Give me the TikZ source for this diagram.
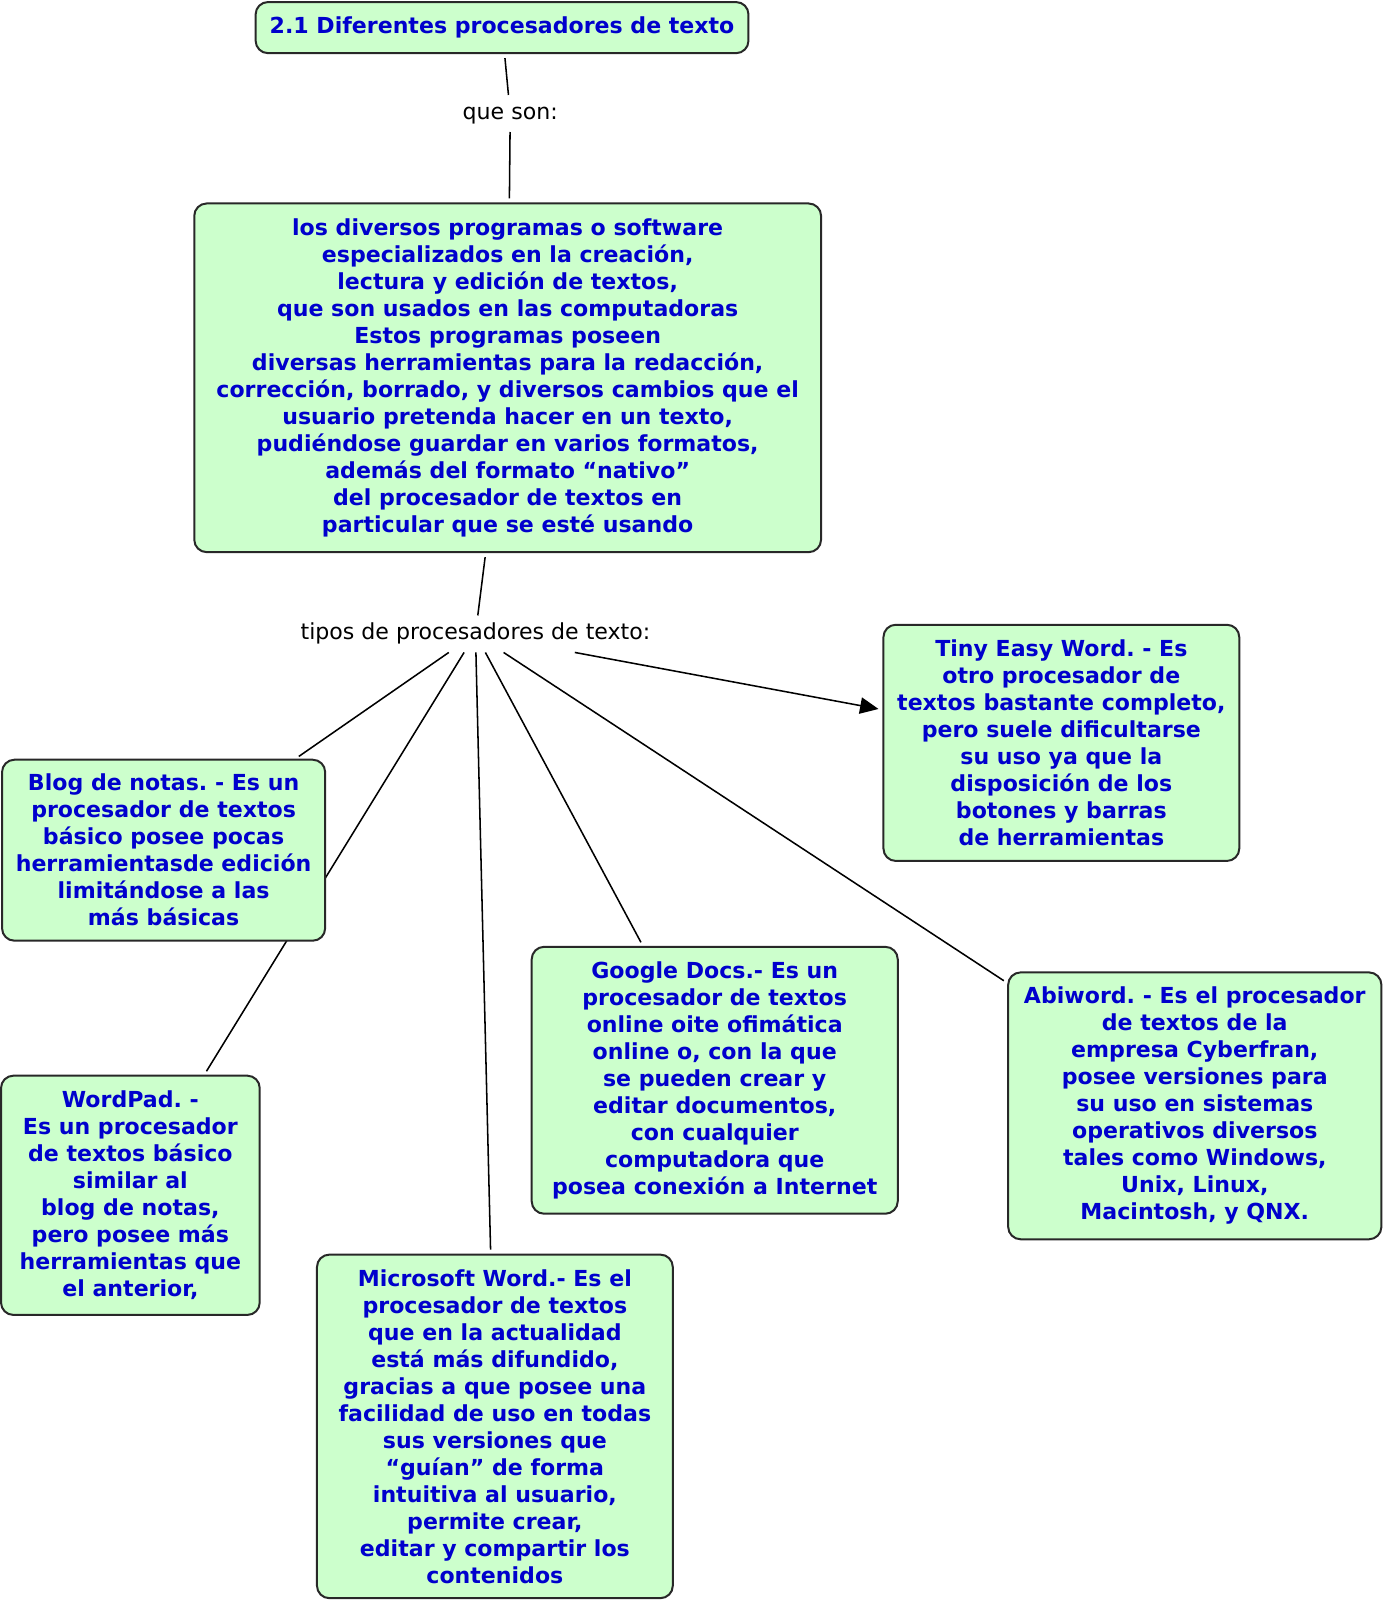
\documentclass[tikz,border=0pt]{standalone}
\usepackage{fontspec}
\setmainfont{DejaVu Sans}
\usetikzlibrary{arrows.meta}
\frenchspacing
\definecolor{boxfill}{RGB}{204,255,204}
\definecolor{boxtext}{RGB}{0,0,204}
\definecolor{boxline}{RGB}{40,40,40}
\pgfdeclarelayer{background}
\pgfsetlayers{background,main}
\tikzset{
  sz/.style 2 args={minimum width=#1*0.51125pt, minimum height=#2*0.51125pt},
  concept/.style={draw=boxline, line width=1pt, fill=boxfill, rounded corners=6.2pt,
    text=boxtext, font=\fontsize{11.04}{13.5}\selectfont\bfseries, align=center, inner sep=0pt},
  linklabel/.style={font=\fontsize{11.04}{13.5}\selectfont, text=black, inner sep=3.6pt,
    text height=8.2pt, text depth=2.7pt},
  conn/.style={line width=0.77pt, draw=black},
  tobox/.style={conn, shorten >=2pt},
  frombox/.style={conn, shorten <=2pt},
}
\begin{document}
\begin{tikzpicture}[x=0.51125pt,y=-0.51125pt]
\useasboundingbox (0,0) rectangle (1353.6,1564.8);
\begin{pgfonlayer}{background}
\fill[white] (0,0) rectangle (1353.6,1564.8);
\end{pgfonlayer}

\node[concept, sz={482}{50}] (title) at (491,27)
  {2.1 Diferentes procesadores de texto};

\node[linklabel] (queson) at (499,111) {que son:};

\node[concept, sz={613}{341}] (main) at (496.5,369.5)
  {los diversos programas o software\\
   especializados en la creación,\\
   lectura y edición de textos,\\
   que son usados en las computadoras\\
   Estos programas poseen\\
   diversas herramientas para la redacción,\\
   corrección, borrado, y diversos cambios que el\\
   usuario pretenda hacer en un texto,\\
   pudiéndose guardar en varios formatos,\\
   además del formato “nativo”\\
   del procesador de textos en\\
   particular que se esté usando};

\node[linklabel] (tipos) at (465,620) {tipos de procesadores de texto:};

\node[concept, sz={348}{231}] (tiny) at (1038,726.5)
  {Tiny Easy Word. - Es\\
   otro procesador de\\
   textos bastante completo,\\
   pero suele dificultarse\\
   su uso ya que la\\
   disposición de los\\
   botones y barras\\
   de herramientas};

\node[concept, sz={316}{177}] (blog) at (160,831.5)
  {Blog de notas. - Es un\\
   procesador de textos\\
   básico posee pocas\\
   herramientasde edición\\
   limitándose a las\\
   más básicas};

\node[concept, sz={358}{261}] (google) at (699,1056.5)
  {Google Docs.- Es un\\
   procesador de textos\\
   online oite ofimática\\
   online o, con la que\\
   se pueden crear y\\
   editar documentos,\\
   con cualquier\\
   computadora que\\
   posea conexión a Internet};

\node[concept, sz={365}{261}] (abiword) at (1168.5,1081.5)
  {Abiword. - Es el procesador\\
   de textos de la\\
   empresa Cyberfran,\\
   posee versiones para\\
   su uso en sistemas\\
   operativos diversos\\
   tales como Windows,\\
   Unix, Linux,\\
   Macintosh, y QNX.};

\node[concept, sz={253}{234}] (wordpad) at (127.5,1169)
  {WordPad. -\\
   Es un procesador\\
   de textos básico\\
   similar al\\
   blog de notas,\\
   pero posee más\\
   herramientas que\\
   el anterior,};

\node[concept, sz={348}{336}] (msword) at (484,1395)
  {Microsoft Word.- Es el\\
   procesador de textos\\
   que en la actualidad\\
   está más difundido,\\
   gracias a que posee una\\
   facilidad de uso en todas\\
   sus versiones que\\
   “guían” de forma\\
   intuitiva al usuario,\\
   permite crear,\\
   editar y compartir los\\
   contenidos};

\begin{pgfonlayer}{background}
\draw[frombox] (title) -- (queson);
\draw[tobox] (queson) -- (main);
\draw[frombox] (main) -- (tipos);
\draw[tobox] (tipos) -- (blog);
\draw[tobox] (tipos) -- (wordpad);
\draw[tobox] (tipos) -- (msword);
\draw[tobox] (tipos) -- (google);
\draw[tobox] (tipos) -- (abiword);
\draw[tobox, -{Triangle[length=9.2pt,width=8.2pt]}] (tipos) -- (tiny);
\end{pgfonlayer}
\end{tikzpicture}
\end{document}
